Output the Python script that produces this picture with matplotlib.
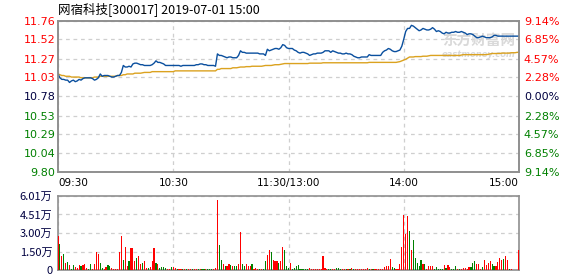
import numpy as np
import matplotlib
matplotlib.use("Agg")
import matplotlib.pyplot as plt

plt.rcParams["font.family"] = ["DejaVu Sans"]

# -----------------------------
# data
# -----------------------------
title_text = "网宿科技[300017] 2019-07-01 15:00"

prev_close = 10.78
price_ticks = [9.80, 10.04, 10.29, 10.53, 10.78, 11.03, 11.27, 11.52, 11.76]
pct_labels = ["9.14%", "6.85%", "4.57%", "2.28%", "0.00%", "2.28%", "4.57%", "6.85%", "9.14%"]

time_ticks = [0, 60, 120, 180, 240]
time_labels = ["09:30", "10:30", "11:30/13:00", "14:00", "15:00"]

# minute price, 09:30 .. 15:00 (241 points)
price = [
    11.07, 11.02, 11.00, 11.00, 10.99, 10.99, 10.96, 10.98, 10.99, 10.97,
    10.98, 11.00, 10.99, 11.01, 11.02, 11.02, 11.02, 11.02, 11.01, 10.99,
    11.00, 11.02, 11.07, 11.04, 11.05, 11.05, 11.05, 11.04, 11.03, 11.03,
    11.04, 11.05, 11.05, 11.09, 11.18, 11.16, 11.16, 11.17, 11.16, 11.20,
    11.21, 11.21, 11.20, 11.19, 11.19, 11.18, 11.18, 11.18, 11.18, 11.19,
    11.21, 11.24, 11.22, 11.22, 11.21, 11.20, 11.18, 11.18, 11.18, 11.18,
    11.18, 11.18, 11.18, 11.18, 11.17, 11.18, 11.18, 11.18, 11.18, 11.18,
    11.18, 11.18, 11.19, 11.19, 11.20, 11.20, 11.19, 11.19, 11.18, 11.18,
    11.18, 11.18, 11.17, 11.33, 11.31, 11.31, 11.30, 11.29, 11.28, 11.29,
    11.29, 11.28, 11.28, 11.28, 11.31, 11.37, 11.35, 11.35, 11.34, 11.34,
    11.34, 11.34, 11.34, 11.34, 11.34, 11.33, 11.33, 11.33, 11.31, 11.39,
    11.37, 11.38, 11.39, 11.40, 11.40, 11.39, 11.41, 11.45, 11.44, 11.41,
    11.40, 11.40, 11.40, 11.38, 11.37, 11.35, 11.34, 11.35, 11.35, 11.34,
    11.33, 11.31, 11.32, 11.33, 11.33, 11.34, 11.34, 11.34, 11.35, 11.37,
    11.37, 11.37, 11.35, 11.37, 11.36, 11.35, 11.34, 11.34, 11.33, 11.33,
    11.34, 11.33, 11.33, 11.32, 11.30, 11.29, 11.28, 11.28, 11.29, 11.29,
    11.29, 11.29, 11.32, 11.31, 11.31, 11.31, 11.31, 11.31, 11.31, 11.35,
    11.37, 11.38, 11.40, 11.39, 11.37, 11.36, 11.36, 11.37, 11.38, 11.43,
    11.52, 11.62, 11.66, 11.66, 11.70, 11.69, 11.67, 11.65, 11.63, 11.64,
    11.66, 11.65, 11.64, 11.64, 11.65, 11.67, 11.65, 11.62, 11.63, 11.62,
    11.60, 11.59, 11.61, 11.60, 11.60, 11.61, 11.61, 11.62, 11.61, 11.61,
    11.62, 11.61, 11.60, 11.58, 11.59, 11.59, 11.58, 11.56, 11.54, 11.54,
    11.55, 11.56, 11.55, 11.54, 11.54, 11.54, 11.55, 11.57, 11.57, 11.56,
    11.56, 11.56, 11.56, 11.56, 11.56, 11.56, 11.56, 11.56, 11.56, 11.56,
    11.56,
]

# average price line
avg_price = [
    11.07, 11.06, 11.05, 11.05, 11.04, 11.04, 11.04, 11.03, 11.03, 11.03,
    11.03, 11.03, 11.02, 11.02, 11.02, 11.02, 11.02, 11.02, 11.02, 11.03,
    11.03, 11.03, 11.04, 11.04, 11.04, 11.04, 11.04, 11.04, 11.04, 11.04,
    11.04, 11.05, 11.05, 11.05, 11.06, 11.06, 11.07, 11.07, 11.07, 11.07,
    11.08, 11.08, 11.08, 11.08, 11.085, 11.09, 11.09, 11.09, 11.09, 11.10,
    11.10, 11.10, 11.10, 11.10, 11.10, 11.10, 11.10, 11.10, 11.10, 11.10,
    11.10, 11.11, 11.11, 11.11, 11.11, 11.11, 11.11, 11.11, 11.11, 11.11,
    11.11, 11.11, 11.11, 11.11, 11.11, 11.11, 11.11, 11.11, 11.11, 11.11,
    11.11, 11.11, 11.11, 11.13, 11.13, 11.14, 11.14, 11.14, 11.14, 11.14,
    11.14, 11.15, 11.15, 11.15, 11.155, 11.16, 11.16, 11.16, 11.165, 11.165,
    11.165, 11.17, 11.17, 11.17, 11.17, 11.17, 11.17, 11.175, 11.18, 11.18,
    11.18, 11.18, 11.185, 11.19, 11.19, 11.19, 11.195, 11.20, 11.205, 11.205,
    11.205, 11.205, 11.205, 11.205, 11.205, 11.205, 11.205, 11.205, 11.205, 11.205,
    11.205, 11.21, 11.21, 11.21, 11.21, 11.21, 11.21, 11.21, 11.215, 11.215,
    11.215, 11.215, 11.215, 11.215, 11.215, 11.215, 11.215, 11.215, 11.215, 11.215,
    11.215, 11.215, 11.215, 11.215, 11.215, 11.215, 11.215, 11.215, 11.215, 11.215,
    11.215, 11.215, 11.22, 11.22, 11.22, 11.22, 11.22, 11.22, 11.22, 11.22,
    11.22, 11.22, 11.22, 11.22, 11.22, 11.22, 11.22, 11.225, 11.23, 11.24,
    11.25, 11.26, 11.275, 11.29, 11.29, 11.29, 11.295, 11.295, 11.295, 11.295,
    11.30, 11.30, 11.30, 11.305, 11.31, 11.31, 11.31, 11.31, 11.31, 11.31,
    11.31, 11.31, 11.31, 11.31, 11.31, 11.31, 11.31, 11.31, 11.31, 11.31,
    11.315, 11.32, 11.32, 11.32, 11.32, 11.32, 11.32, 11.32, 11.32, 11.32,
    11.32, 11.32, 11.32, 11.32, 11.325, 11.33, 11.335, 11.335, 11.335, 11.335,
    11.335, 11.34, 11.34, 11.34, 11.34, 11.34, 11.345, 11.345, 11.345, 11.35,
    11.35,
]

# minute volume in 万, sign = direction (+ red / - green)
volume_signed = [
    2.75, -2.08, 1.17, -1.33, 0.58, -0.67, 0.42, -0.08, -0.42, 0.25,
    0.17, 0.42, -0.33, 0.42, 0.50, 0.17, -0.08, -0.50, 0.08, 0.50,
    1.50, 1.33, -0.58, -0.17, 0.08, 0.25, -0.42, -0.33, 0.17, 0.08,
    0.08, 0.08, 1.50, 2.80, -0.83, 1.83, 0.33, -0.75, 1.75, 1.75,
    0.75, -1.00, 1.10, 0.45, -0.55, 0.75, 0.20, -0.20, 0.25, 0.75,
    1.80, -0.60, 0.50, -0.20, -0.25, -0.25, -0.15, 0.10, 0.10, -0.25,
    0.25, 0.15, -0.10, 0.10, 0.10, -0.10, 0.08, -0.10, 0.08, 0.10,
    -0.10, 0.08, 0.10, -0.10, 0.08, -0.10, -0.10, 0.12, -0.10, -0.10,
    -0.10, 0.10, 0.15, 5.65, -2.00, -0.85, 0.50, -0.30, 0.30, 0.45,
    -0.40, 0.30, -0.35, -0.30, 0.45, 3.10, -0.50, -0.30, 0.45, 0.30,
    0.30, -0.45, 0.10, 0.20, 0.10, -0.10, 0.10, -0.10, -0.70, 1.25,
    1.65, -1.45, 0.85, 0.75, 0.70, -0.60, 0.75, 1.90, -1.65, -0.35,
    -0.15,
    0.60, -0.10, -0.20, -0.30, -0.40, -0.10, -0.10, -0.10, -0.10, -0.10,
    0.20, 0.10, 0.10, 0.10, 0.10, 0.10, 0.10, 1.10, 0.15, 0.10,
    -0.10, -0.10, 0.10, 0.10, -0.15, -0.15, -0.10, 0.10, 0.10, -0.10,
    0.10, -0.10, 0.15, -0.10, 0.10, 0.10, 0.10, 0.10, 0.10, 0.10,
    0.15, -0.10, 0.10, -0.10, 0.10, 0.10, 0.10, 0.10, 0.10, 0.25,
    0.30, 0.30, 0.90, -0.25, -0.15, 0.10, 0.10, 0.50, 1.90, 4.50,
    2.90, 4.35, -3.15, 1.60, -2.40, -1.00, -0.55, -0.35, -0.85, 0.50,
    -0.50, 0.10, 0.35, 0.30, 0.30, -0.10, -0.25, -0.10, -0.10, -0.10,
    0.40, -0.15, 0.40, 0.25, -0.10, -0.10, -0.35, 0.10, -0.10, 0.10,
    0.15, 0.15, 0.10, 0.25, -0.25, -0.60, -0.75, 0.45, 0.45, 0.10,
    -0.25, 0.80, 0.40, 0.55, 0.70, -0.45, -0.35, 0.35, 0.65, 0.95,
    0.80, -0.90, 1.10, 0.85, -0.10, 0.10, 0.0, 0.0, 0.0, 1.65,
]

vol_ticks = [0, 1.50, 3.00, 4.51, 6.01]
vol_labels = ["0", "1.50万", "3.00万", "4.51万", "6.01万"]

assert len(price) == 241, len(price)
assert len(avg_price) == 241, len(avg_price)
assert len(volume_signed) == 241, len(volume_signed)

# -----------------------------
# styles
# -----------------------------
c_red = "#ff0000"
c_green = "#008000"
c_flat = "#000040"
c_line = "#0a4f9e"
c_avg = "#dba21f"
c_spine = "#8f8f8f"
c_grid = "#cfcfcf"
cjk = ["Noto Sans CJK SC", "DejaVu Sans"]

W, H = 578, 276
fig = plt.figure(figsize=(W / 100, H / 100), dpi=100)

def box(l, t, r, b):
    return [l / W, 1 - b / H, (r - l) / W, (b - t) / H]

ax = fig.add_axes(box(58, 20.7, 519, 172))
axv = fig.add_axes(box(58, 196, 519, 270))

minutes = np.arange(len(price))

# price panel
ax.plot(minutes, avg_price, color=c_avg, lw=1.0, zorder=3)
ax.plot(minutes, price, color=c_line, lw=1.0, zorder=4)
ax.set_xlim(0, 240)
ax.set_ylim(price_ticks[0], price_ticks[-1])
ax.set_yticks(price_ticks)
ax.set_yticklabels([f"{v:.2f}" for v in price_ticks])
for lab, v in zip(ax.get_yticklabels(), price_ticks):
    lab.set_color(c_red if v > prev_close + 1e-6 else (c_green if v < prev_close - 1e-6 else c_flat))

axr = ax.twinx()
axr.set_ylim(ax.get_ylim())
axr.set_yticks(price_ticks)
axr.set_yticklabels(pct_labels)
for lab, v in zip(axr.get_yticklabels(), price_ticks):
    lab.set_color(c_red if v > prev_close + 1e-6 else (c_green if v < prev_close - 1e-6 else c_flat))
axr.tick_params(axis="y", length=0, pad=3.5, labelsize=8)

ax.set_xticks(time_ticks)
ax.set_xticklabels(time_labels)
xl = ax.get_xticklabels()
xl[0].set_ha("left")
xl[-1].set_ha("right")
ax.tick_params(axis="x", length=0, pad=4, labelsize=7.5, colors="black")
ax.tick_params(axis="y", length=0, pad=2, labelsize=8)

# volume panel
vol_abs = np.abs(volume_signed)
vol_col = [c_red if v >= 0 else c_green for v in volume_signed]
axv.bar(np.arange(len(volume_signed)), vol_abs, width=0.6, color=vol_col,
        antialiased=False, linewidth=0, zorder=3)
axv.set_xlim(0, 240)
axv.set_ylim(0, vol_ticks[-1])
axv.set_yticks(vol_ticks)
axv.set_yticklabels(vol_labels, family=cjk)
axv.set_xticks(time_ticks)
axv.tick_params(axis="x", length=0, labelbottom=False)
axv.tick_params(axis="y", length=0, pad=4, labelsize=8, colors=c_flat)

for a in (ax, axr, axv):
    for s in a.spines.values():
        s.set_color(c_spine)
        s.set_linewidth(1.2)

for a in (ax, axv):
    a.grid(True, color=c_grid, linestyle=(0, (3, 3)), linewidth=0.9, zorder=0)
    a.set_axisbelow(True)

# watermark (inside the price panel, top right)
ax.text(0.992, 0.87, "东方财富网", transform=ax.transAxes, family=cjk,
        fontsize=10.5, fontweight="bold", color="#d9d9d9", ha="right", va="center",
        zorder=1, clip_on=True)
ax.text(0.992, 0.775, "eastmoney.com", transform=ax.transAxes,
        fontsize=6, fontweight="bold", style="italic", color="#d9d9d9", ha="right", va="center",
        zorder=1, clip_on=True)

fig.text(58 / W, 1 - 9.5 / H, title_text, family=cjk, fontsize=9,
         color="black", ha="left", va="center")

fig.savefig("out.png", dpi=100)
